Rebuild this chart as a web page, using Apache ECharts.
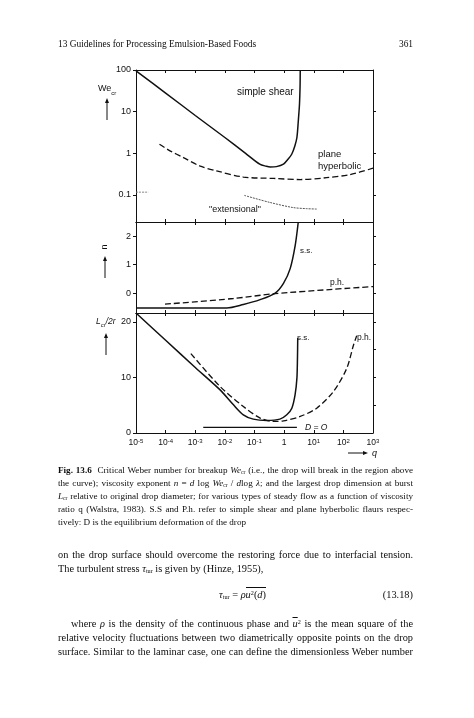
<!DOCTYPE html>
<html>
<head>
<meta charset="utf-8">
<script src="https://cdn.jsdelivr.net/npm/echarts@6/dist/echarts.min.js"></script>
<style>
  html, body { margin: 0; padding: 0; background: #fff; }
  #page { position: relative; width: 474px; height: 718px; overflow: hidden; }
  #chart { position: absolute; left: 0; top: 0; width: 474px; height: 718px; }
  .t { position: absolute; left: 58px; width: 355px; font-family: "Liberation Serif", serif; color: #0d0d0d; white-space: nowrap; }
  .cap { font-size: 9.15px; line-height: 12px; height: 12px; }
  .body { font-size: 10.35px; line-height: 13px; height: 13px; }
  .j { text-align: justify; text-align-last: justify; }
  sub { font-size: 0.6em; vertical-align: -0.2em; line-height: 0; }
  sup { font-size: 0.6em; vertical-align: 0.45em; line-height: 0; }
</style>
</head>
<body>
<div id="page">
  <div id="chart"></div>
  <div class="t body" style="top:38px;font-size:9.4px">13 Guidelines for Processing Emulsion-Based Foods<span style="position:absolute;right:0">361</span></div>

  <div class="t cap j" style="top:464px"><b>Fig. 13.6</b>&nbsp; Critical Weber number for breakup <i>We</i><sub>cr</sub> (i.e., the drop will break in the region above</div>
  <div class="t cap j" style="top:477px">the curve); viscosity exponent <i>n</i> = <i>d</i> log <i>We</i><sub>cr</sub> / <i>d</i>log <i>λ</i>; and the largest drop dimension at burst</div>
  <div class="t cap j" style="top:490px"><i>L</i><sub>cr</sub> relative to original drop diameter; for various types of steady flow as a function of viscosity</div>
  <div class="t cap j" style="top:503px">ratio q (Walstra, 1983). S.S and P.h. refer to simple shear and plane hyberbolic flaurs respec-</div>
  <div class="t cap" style="top:516px">tively: D is the equilibrium deformation of the drop</div>

  <div class="t body j" style="top:548px">on the drop surface should overcome the restoring force due to interfacial tension.</div>
  <div class="t body" style="top:562px">The turbulent stress <i>τ</i><sub>tur</sub> is given by (Hinze, 1955),</div>
  <div class="t body" style="top:588px;text-align:center;padding-left:14px;box-sizing:border-box"><i>τ</i><sub>tur</sub> = <i>ρ</i><span style="border-top:0.8px solid #0d0d0d;padding-top:1px"><i>u</i><sup>2</sup>(<i>d</i>)</span><span style="position:absolute;right:0">(13.18)</span></div>
  <div class="t body j" style="top:617px;left:71px;width:342px">where <i>ρ</i> is the density of the continuous phase and <span style="text-decoration:overline"><i>u</i></span><sup>2</sup> is the mean square of the</div>
  <div class="t body j" style="top:631px">relative velocity fluctuations between two diametrically opposite points on the drop</div>
  <div class="t body j" style="top:645px">surface. Similar to the laminar case, one can define the dimensionless Weber number</div>
</div>
<script>
// tick values
const qTicks = [1e-5, 1e-4, 1e-3, 1e-2, 1e-1, 1, 1e1, 1e2, 1e3];
const weTicks = [0.1, 1, 10, 100];
const nTicks = [0, 1, 2];
const lTicks = [0, 10, 20];
const lTicksRight = [5, 10, 15, 20];

// top panel: critical Weber number vs q
const qWeShear = [1e-5, 1e-4, 1e-3, 1e-2, 0.05, 0.15, 0.25, 0.34, 0.55, 0.95, 1.3, 1.8, 2.3, 2.7, 3.0, 3.3, 3.45, 3.5];
const weShear = [95, 28, 8.1, 2.4, 1.0, 0.55, 0.49, 0.47, 0.48, 0.55, 0.7, 0.95, 1.5, 2.4, 5.8, 15, 40, 100];
const qWePlane = [6.2e-5, 1.4e-4, 4e-4, 1.4e-3, 5.2e-3, 0.042, 0.44, 3.5, 27, 170, 1000];
const wePlane = [1.65, 1.15, 0.79, 0.5, 0.38, 0.27, 0.25, 0.235, 0.26, 0.31, 0.44];
const qWeExt = [0.045, 0.34, 2.0, 5.8, 12.6];
const weExt = [0.098, 0.066, 0.05, 0.047, 0.046];
const qWeStub = [1e-5, 2.6e-5];
const weStub = [0.117, 0.117];

// middle panel: viscosity exponent n
const qNShear = [1e-5, 1e-3, 0.0115, 0.042, 0.155, 0.5, 0.95, 1.6, 2.35, 3.0];
const nShear = [-0.52, -0.52, -0.52, -0.4, -0.23, 0, 0.34, 0.86, 1.66, 2.5];
const qNPlane = [9.5e-5, 0.0195, 0.5, 1000];
const nPlane = [-0.39, -0.19, -0.02, 0.23];

// bottom panel: Lcr/2r
const qLShear = [1e-5, 1e-4, 1e-3, 0.0069, 0.0195, 0.042, 0.091, 0.26, 0.72, 1.23, 1.82, 2.34, 2.7, 2.82, 2.88];
const lShear = [21.6, 16.7, 11.8, 7.76, 5.07, 3.28, 2.5, 2.26, 2.5, 3.28, 4.47, 6.86, 9.86, 13.4, 17.1];
const qLPlane = [7.1e-4, 0.0069, 0.042, 0.155, 0.44, 0.95, 3.5, 12.6, 46, 129, 219, 282];
const lPlane = [14.3, 8.36, 4.77, 2.69, 2.09, 2.2, 2.98, 4.47, 7.46, 11.6, 15.8, 17.5];
const qDeform = [1.86e-3, 2.7];
const lDeform = [1, 1];

const ink = '#111';
const sans = '"Liberation Sans", Arial, sans-serif';
const zip = (xs, ys) => xs.map((x, i) => [x, ys[i]]);

const fmtQ = (v) => {
  const e = Math.round(Math.log10(v));
  return e === 0 ? '1' : `10{s|${e}}`;
};

const xAxisFor = (gridIndex, position, showLabel) => ({
  type: 'log', logBase: 10, gridIndex, position, min: 1e-5, max: 1e3,
  axisLine: { show: true, onZero: false, lineStyle: { color: ink, width: 1 } },
  axisTick: { show: true, inside: true, length: 3, customValues: qTicks, lineStyle: { color: ink } },
  axisLabel: {
    show: showLabel, customValues: qTicks, formatter: fmtQ, margin: 5,
    color: ink, fontFamily: sans, fontSize: 8.5,
    rich: { s: { fontSize: 6, verticalAlign: 'top', lineHeight: 8, fontFamily: sans, color: ink } }
  },
  splitLine: { show: false }, minorTick: { show: false }
});

const yAxisFor = (gridIndex, position, opts) => Object.assign({
  gridIndex, position,
  axisLine: { show: true, onZero: false, lineStyle: { color: ink, width: 1 } },
  axisTick: { show: true, inside: false, length: 3, lineStyle: { color: ink } },
  axisLabel: { show: position === 'left', color: ink, fontFamily: sans, fontSize: 9, margin: 5 },
  splitLine: { show: false }
}, opts);

const line = (name, xi, xs, ys, style) => ({
  name, type: 'line', xAxisIndex: xi, yAxisIndex: xi, data: zip(xs, ys),
  symbol: 'none', smooth: 0.3, clip: true, silent: true,
  lineStyle: Object.assign({ color: ink, width: 1.5 }, style)
});

const chart = echarts.init(document.getElementById('chart'), null, { renderer: 'canvas' });

const txt = (x, y, text, extra) => ({
  type: 'text', x, y, silent: true,
  style: Object.assign({ text, fill: ink, font: `9px ${sans}`, verticalAlign: 'middle' }, extra)
});
const arrowUp = (x, y1, y2) => ([
  { type: 'line', silent: true, shape: { x1: x, y1, x2: x, y2: y2 + 4 }, style: { stroke: ink, lineWidth: 1 } },
  { type: 'polygon', silent: true, shape: { points: [[x - 2, y2 + 5], [x + 2, y2 + 5], [x, y2]] }, style: { fill: ink } }
]);

const option = {
  animation: false,
  grid: [
    { left: 136, top: 70, width: 237, height: 152 },
    { left: 136, top: 222, width: 237, height: 91 },
    { left: 136, top: 313, width: 237, height: 120 }
  ],
  xAxis: [
    xAxisFor(0, 'bottom', false), xAxisFor(1, 'bottom', false), xAxisFor(2, 'bottom', true),
    xAxisFor(0, 'top', false), xAxisFor(1, 'top', false), xAxisFor(2, 'top', false)
  ],
  yAxis: [
    yAxisFor(0, 'left', {
      type: 'log', logBase: 10, min: 0.0225, max: 100,
      axisTick: { show: true, length: 3, customValues: weTicks, lineStyle: { color: ink } },
      axisLabel: { customValues: weTicks, color: ink, fontFamily: sans, fontSize: 9, margin: 5,
        formatter: (v) => (v < 1 ? '0.1' : String(Math.round(v))) }
    }),
    yAxisFor(1, 'left', {
      type: 'value', min: -0.7, max: 2.5,
      axisTick: { show: true, length: 3, customValues: nTicks, lineStyle: { color: ink } },
      axisLabel: { customValues: nTicks, color: ink, fontFamily: sans, fontSize: 9, margin: 5 }
    }),
    yAxisFor(2, 'left', {
      type: 'value', min: 0, max: 21.6,
      axisTick: { show: true, length: 3, customValues: lTicks, lineStyle: { color: ink } },
      axisLabel: { customValues: lTicks, color: ink, fontFamily: sans, fontSize: 9, margin: 5 }
    }),
    yAxisFor(0, 'right', {
      type: 'log', logBase: 10, min: 0.0225, max: 100,
      axisTick: { show: true, length: 3, customValues: weTicks.slice(0, 3), lineStyle: { color: ink } },
      axisLabel: { show: false }
    }),
    yAxisFor(1, 'right', {
      type: 'value', min: -0.7, max: 2.5,
      axisTick: { show: true, length: 3, customValues: nTicks, lineStyle: { color: ink } },
      axisLabel: { show: false }
    }),
    yAxisFor(2, 'right', {
      type: 'value', min: 0, max: 21.6,
      axisTick: { show: true, length: 3, customValues: lTicksRight, lineStyle: { color: ink } },
      axisLabel: { show: false }
    })
  ],
  series: [
    line('simple shear', 0, qWeShear, weShear, {}),
    line('plane hyperbolic', 0, qWePlane, wePlane, { width: 1.3, type: [6, 3] }),
    line('extensional', 0, qWeExt, weExt, { width: 1, color: '#555', type: [2, 1] }),
    line('stub', 0, qWeStub, weStub, { width: 1, color: '#888', type: [2, 1] }),
    line('s.s.', 1, qNShear, nShear, {}),
    line('p.h.', 1, qNPlane, nPlane, { width: 1.3, type: [6, 3] }),
    line('s.s.', 2, qLShear, lShear, {}),
    line('p.h.', 2, qLPlane, lPlane, { width: 1.3, type: [6, 3] }),
    line('D = 0', 2, qDeform, lDeform, { width: 1.3 })
  ],
  graphic: [
    txt(237, 92, 'simple shear', { font: `10px ${sans}` }),
    txt(318, 154, 'plane', { font: `9.5px ${sans}` }),
    txt(318, 166, 'hyperbolic', { font: `9.5px ${sans}` }),
    txt(209, 210, '"extensional"', { font: `9px ${sans}` }),
    txt(300, 251, 's.s.', { font: `8px ${sans}` }),
    txt(330, 283, 'p.h.', { font: `8.5px ${sans}` }),
    txt(297, 338, 's.s.', { font: `8px ${sans}` }),
    txt(357, 338, 'p.h.', { font: `8.5px ${sans}` }),
    txt(305, 428, 'D = O', { font: `italic 8.5px ${sans}` }),
    txt(98, 89, '{m|We}{s|cr}', { rich: { m: { fontSize: 9, fontFamily: sans, fill: ink }, s: { fontSize: 6, fontFamily: sans, fill: ink, verticalAlign: 'bottom', lineHeight: 14 } } }),
    ...arrowUp(107, 120, 98),
    Object.assign(txt(105, 247, 'n', { font: `9px ${sans}`, align: 'center' }), { rotation: Math.PI / 2 }),
    ...arrowUp(105, 278, 256),
    txt(96, 322, '{m|L}{s|cr}{m|/2r}', { rich: { m: { fontSize: 8.5, fontFamily: sans, fontStyle: 'italic', fill: ink }, s: { fontSize: 6, fontFamily: sans, fontStyle: 'italic', fill: ink, verticalAlign: 'bottom', lineHeight: 13 } } }),
    ...arrowUp(106, 355, 333),
    { type: 'line', silent: true, shape: { x1: 348, y1: 453, x2: 364, y2: 453 }, style: { stroke: ink, lineWidth: 1 } },
    { type: 'polygon', silent: true, shape: { points: [[363, 451], [363, 455], [368, 453]] }, style: { fill: ink } },
    txt(372, 453, 'q', { font: `italic 9px ${sans}` })
  ]
};

chart.setOption(option);
</script>
</body>
</html>
